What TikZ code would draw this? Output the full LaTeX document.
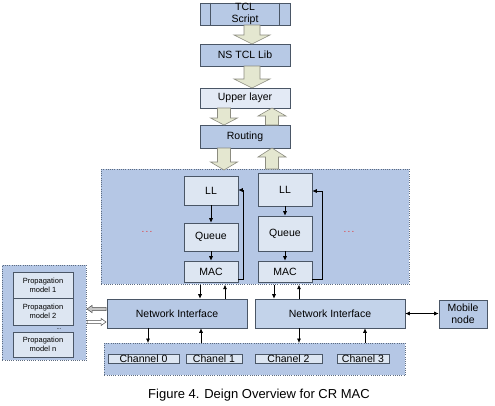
\documentclass[tikz,border=0pt]{standalone}
\usepackage{fontspec}
\setmainfont{Liberation Sans}
\usetikzlibrary{arrows.meta}
\definecolor{boxblue}{HTML}{B7C9E5}
\definecolor{lightblue}{HTML}{DDE6F2}
\definecolor{upperfill}{HTML}{E3EAF5}
\definecolor{nirfill}{HTML}{C3D3EA}
\definecolor{regionblue}{HTML}{B5C7E5}
\definecolor{bordergray}{HTML}{4A5666}
\definecolor{regionline}{HTML}{5C6B80}
\definecolor{arrowfill}{HTML}{E4E7D0}
\definecolor{arrowline}{HTML}{8C8C80}
\definecolor{dotred}{HTML}{E03838}
\newcommand\blkdn[6]{%
  \filldraw[blockarrow] (#1-#4,#2) -- (#1+#4,#2) -- (#1+#4,#3-#6) -- (#1+#5,#3-#6) -- (#1,#3) -- (#1-#5,#3-#6) -- (#1-#4,#3-#6) -- cycle;}
\newcommand\blkup[6]{%
  \filldraw[blockarrow] (#1-#4,#3) -- (#1+#4,#3) -- (#1+#4,#2+#6) -- (#1+#5,#2+#6) -- (#1,#2) -- (#1-#5,#2+#6) -- (#1-#4,#2+#6) -- cycle;}
% horizontal hollow arrow: tail x, tip x, head base x, y, fill
\newcommand\hollowarrow[5]{%
  \filldraw[draw=gray!60!black, fill=#5, line width=0.5pt]
    (#1,#4-1.6) -- (#3,#4-1.6) -- (#3,#4-3.6) -- (#2,#4)
    -- (#3,#4+3.6) -- (#3,#4+1.6) -- (#1,#4+1.6) -- cycle;}
\tikzset{
  box/.style={draw=bordergray, fill=boxblue, line width=0.6pt, inner sep=0pt,
    font=\fontsize{10.5}{12}\selectfont, align=center},
  lbox/.style={box, fill=lightblue},
  pbox/.style={lbox, font=\fontsize{7.5}{9}\selectfont, minimum width=60},
  chbox/.style={box, fill=lightblue, minimum height=9},
  region/.style={draw=regionline, fill=regionblue, line width=0.7pt,
    dash pattern=on 0.8pt off 1.4pt, inner sep=0pt},
  blockarrow/.style={draw=arrowline, fill=arrowfill, line width=0.6pt},
  conn/.style={draw=black, line width=0.6pt, -{Latex[length=4.5pt,width=4pt]}},
  reddots/.style={text=dotred, font=\fontsize{10}{10}\selectfont, inner sep=0pt}
}
\begin{document}
\begin{tikzpicture}[x=1pt,y=-1pt]
\useasboundingbox (0,0) rectangle (495,405);
\fill[white] (0,0) rectangle (495,405);

% top stack
\node[box, minimum width=90, minimum height=22] (tcl) at (245,14) {TCL\\Script};
\draw[bordergray, line width=0.6pt] ([xshift=11pt]tcl.north west) -- ([xshift=11pt]tcl.south west);
\draw[bordergray, line width=0.6pt] ([xshift=-11pt]tcl.north east) -- ([xshift=-11pt]tcl.south east);
\node[box, minimum width=90, minimum height=22] (ns) at (245,55) {NS TCL Lib};
\node[box, fill=upperfill, minimum width=90, minimum height=20] (upper) at (245,98) {Upper layer};
\node[box, minimum width=90, minimum height=23] (routing) at (245,136.5) {Routing};

% main region
\node[region, minimum width=308, minimum height=115, anchor=north west] (mainreg) at (101,169) {};

\blkdn{252}{25}{44}{8}{18}{9}
\blkdn{252}{66}{88}{8}{18}{9}
\blkdn{224}{108}{125}{6.5}{13.5}{7}
\blkup{272}{108}{125}{6.5}{14}{8}
\blkdn{224}{148}{170}{6.5}{13.5}{8}
\blkup{272}{148}{169}{6.5}{14}{9}

\node[lbox, minimum width=54, minimum height=29] (llL) at (211,190.5) {LL};
\node[lbox, minimum width=54, minimum height=28] (qL) at (211,237) {Queue};
\node[lbox, minimum width=54, minimum height=21] (macL) at (211,271.5) {MAC};
\node[lbox, minimum width=54, minimum height=33] (llR) at (285,189.5) {LL};
\node[lbox, minimum width=54, minimum height=35] (qR) at (285,233.5) {Queue};
\node[lbox, minimum width=54, minimum height=21] (macR) at (285,271.5) {MAC};

\draw[conn] (llL) -- (qL);
\draw[conn] (qL) -- (macL);
\draw[conn] (llR) -- (qR);
\draw[conn] (qR) -- (macR);

\coordinate (fbL) at (243,190);
\coordinate (fbR) at (322,191);
\draw[conn] ([yshift=3pt]macL.south east) -| (fbL) -- (fbL -| llL.east);
\draw[conn] ([yshift=3pt]macR.south east) -| (fbR) -- (fbR -| llR.east);

\node[reddots] (dotsL) at (147,232) {.\kern1.2pt.\kern1.2pt.};
\node[reddots] (dotsR) at (349,232) {.\kern1.2pt.\kern1.2pt.};

% propagation models
\node[region, minimum width=84, minimum height=95, anchor=north west] (propreg) at (2,265) {};
\node[pbox, minimum height=26] (pm1) at (43,285) {Propagation\\model 1};
\node[pbox, minimum height=27] (pm2) at (43,311.5) {Propagation\\model 2};
\node[pbox, minimum height=25] (pmn) at (43,344.5) {Propagation\\model n};
\node[font=\fontsize{6}{6}\selectfont, inner sep=0pt] (pdots) at (59,329.5) {...};

% network interfaces
\node[box, minimum width=140, minimum height=29] (niL) at (177,313.5) {Network Interface};
\node[box, fill=nirfill, minimum width=150, minimum height=29] (niR) at (330,313.5) {Network Interface};
\node[box, minimum width=48, minimum height=28] (mobile) at (463,314) {Mobile\\node};
\draw[draw=black, line width=0.6pt, {Latex[length=4.5pt,width=4pt]}-{Latex[length=4.5pt,width=4pt]}] (niR.east) -- (niR.east -| mobile.west);

\hollowarrow{106}{87}{92}{309}{gray!45}
\hollowarrow{87}{106}{101}{322}{white}

\coordinate (a1) at (200,0);
\coordinate (a2) at (225,0);
\coordinate (a3) at (274,0);
\coordinate (a4) at (299,0);
\draw[conn] (a1 |- mainreg.south) -- (a1 |- niL.north);
\draw[conn] (a2 |- niL.north) -- (a2 |- mainreg.south);
\draw[conn] (a3 |- mainreg.south) -- (a3 |- niR.north);
\draw[conn] (a4 |- niR.north) -- (a4 |- mainreg.south);

% channels
\node[region, minimum width=301, minimum height=32, anchor=north west] (chreg) at (104,343) {};
\node[chbox, minimum width=71] (ch0) at (143.5,359) {Channel 0};
\node[chbox, minimum width=56] (ch1) at (214,359) {Chanel 1};
\node[chbox, minimum width=67] (ch2) at (288.5,359) {Chanel 2};
\node[chbox, minimum width=52] (ch3) at (363,359) {Chanel 3};

\coordinate (b1) at (148,0);
\coordinate (b2) at (201,0);
\coordinate (b3) at (299,0);
\coordinate (b4) at (365,0);
\draw[conn] (b1 |- niL.south) -- (b1 |- chreg.north);
\draw[conn] (b2 |- chreg.north) -- (b2 |- niL.south);
\draw[conn] (b3 |- niR.south) -- (b3 |- chreg.north);
\draw[conn] (b4 |- chreg.north) -- (b4 |- niR.south);

\node[font=\fontsize{13}{15}\selectfont, inner sep=0pt] (caption) at (259,395) {Figure 4. Deign Overview for CR MAC};
\end{tikzpicture}
\end{document}
